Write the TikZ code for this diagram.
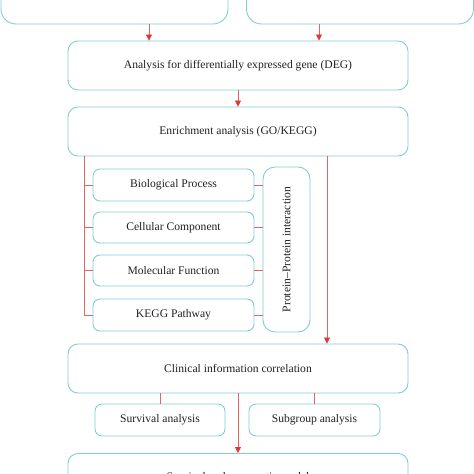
\documentclass[tikz,border=0pt]{standalone}
\usepackage{fontspec}
\setmainfont{Liberation Serif}
\usetikzlibrary{arrows.meta,calc}
\definecolor{boxc}{RGB}{128,205,215}
\definecolor{linec}{RGB}{228,100,100}
\definecolor{tipc}{RGB}{225,55,55}
\definecolor{txtc}{RGB}{35,31,32}
\tikzset{
  txtfont/.style={text=txtc, font=\fontsize{11.6}{13}\selectfont},
  bigbox/.style={draw=boxc, line width=0.9pt, rounded corners=10pt, minimum width=340pt, minimum height=49pt, inner sep=0pt, txtfont},
  smallbox/.style={draw=boxc, line width=0.9pt, rounded corners=7pt, minimum height=32pt, inner sep=0pt, txtfont},
  arr/.style={draw=linec, line width=0.8pt, -{Triangle[width=6pt,length=6pt,color=tipc]}},
  bus/.style={draw=linec, line width=0.8pt}
}
\begin{document}
\begin{tikzpicture}[x=1pt,y=-1pt]
\useasboundingbox (0,0) rectangle (474,474);
\clip (0,0) rectangle (474,474);
% top boxes (cut off)
\node[smallbox, rounded corners=15pt, minimum width=227pt, minimum height=64pt] (top1) at (114.5,-8) {};
\node[smallbox, rounded corners=15pt, minimum width=227pt, minimum height=64pt] (top2) at (360,-8) {};
\node[bigbox] (deg) at (238,65.5) {Analysis for differentially expressed gene (DEG)};
\node[bigbox] (enr) at (238,131.5) {Enrichment analysis (GO/KEGG)};
\node[smallbox, minimum width=161pt] (bp) at (173.5,185) {Biological Process};
\node[smallbox, minimum width=161pt, minimum height=31pt] (cc) at (173.5,227.5) {Cellular Component};
\node[smallbox, minimum width=161pt, minimum height=31pt] (mf) at (173.5,270.5) {Molecular Function};
\node[smallbox, minimum width=161pt] (kegg) at (173.5,315) {KEGG Pathway};
\node[smallbox, rounded corners=12pt, minimum width=47pt, minimum height=165pt] (ppi) at (286.5,249.5) {};
\node[txtfont, rotate=90] (ppitxt) at (ppi.center) {Protein–Protein interaction};
\node[bigbox] (clin) at (238,368.5) {Clinical information correlation};
\node[smallbox, minimum width=130pt] (surv) at (160,420) {Survival analysis};
\node[smallbox, minimum width=131pt] (subg) at (314.5,420) {Subgroup analysis};
\node[bigbox, minimum height=70pt, anchor=north] (last) at (238,453) {};
\node[txtfont] (lasttxt) at (238,477.5) {Survival and prognostic model};
% connectors
\coordinate (a1) at (149,0);
\coordinate (a2) at (319,0);
\coordinate (bx) at (84,0);
\coordinate (rx) at (327,0);
\draw[arr] (a1 |- top1.south) -- (a1 |- deg.north);
\draw[arr] (a2 |- top2.south) -- (a2 |- deg.north);
\draw[arr] (deg.south) -- (enr.north);
\draw[bus] (bx |- enr.south) |- (kegg.west);
\draw[bus] (bx |- bp.west) -- (bp.west);
\draw[bus] (bx |- cc.west) -- (cc.west);
\draw[bus] (bx |- mf.west) -- (mf.west);
\draw[bus] (bp.east) -- (bp.east -| ppi.west);
\draw[bus] (cc.east) -- (cc.east -| ppi.west);
\draw[bus] (mf.east) -- (mf.east -| ppi.west);
\draw[bus] (kegg.east) -- (kegg.east -| ppi.west);
\draw[arr] (rx |- enr.south) -- (rx |- clin.north);
\draw[bus] (clin.south -| surv.north) -- (surv.north);
\draw[bus] (clin.south -| subg.north) -- (subg.north);
\draw[arr] (clin.south) -- (last.north);
\end{tikzpicture}
\end{document}
